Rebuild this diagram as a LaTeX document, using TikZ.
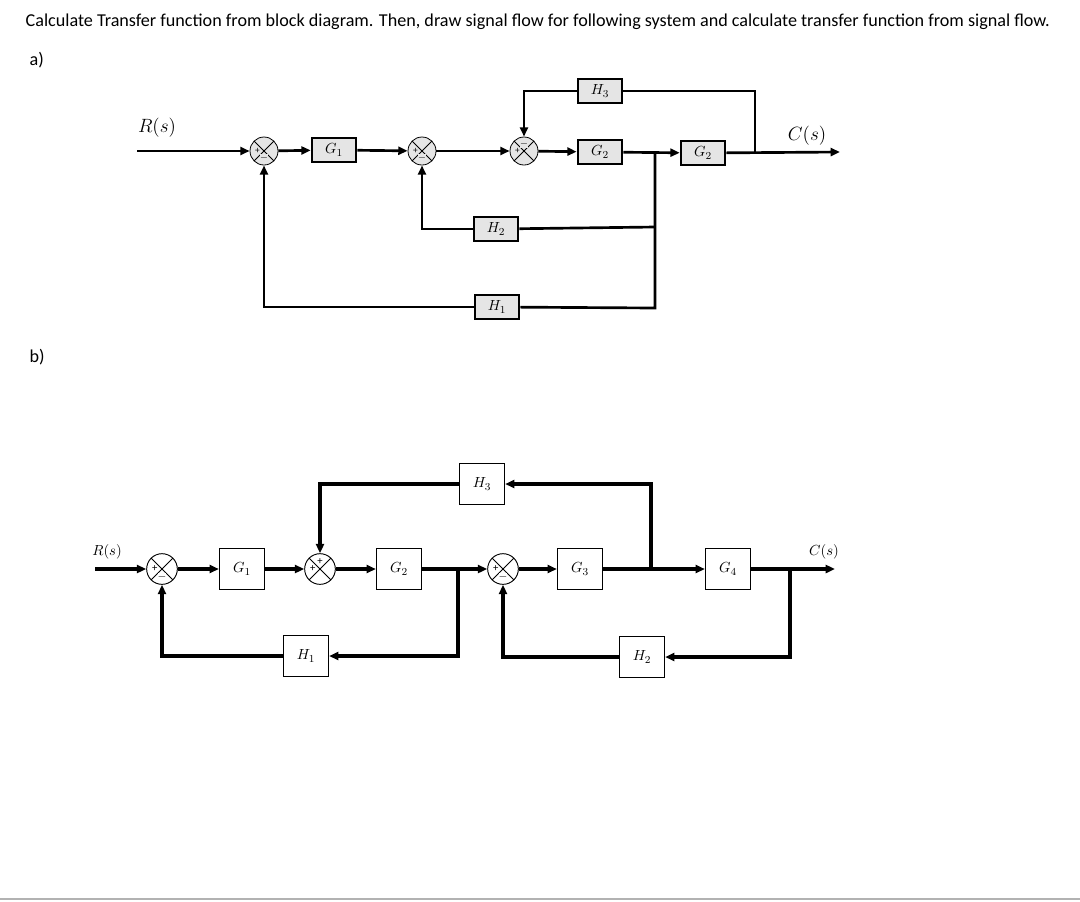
\documentclass[tikz,border=0pt]{standalone}
\usepackage{fontspec}
\setmainfont{Carlito}
\usetikzlibrary{arrows.meta}
\begin{document}
\begin{tikzpicture}[x=0.75pt,y=-0.75pt,
 blka/.style={draw,line width=2pt,fill=gray!20,minimum width=33pt,minimum height=18pt,inner sep=0pt,font=\fontsize{11}{12}\selectfont},
 suma/.style={draw,circle,fill=gray!20,minimum size=21pt,inner sep=0pt,line width=0.6pt,path picture={\draw[line width=0.6pt] (path picture bounding box.south west)--(path picture bounding box.north east) (path picture bounding box.north west)--(path picture bounding box.south east);}},
 blkb/.style={draw,line width=0.7pt,fill=white,minimum width=34pt,minimum height=31pt,inner sep=0pt,font=\fontsize{11}{12}\selectfont},
 sumb/.style={draw,circle,fill=white,minimum size=23pt,inner sep=0pt,line width=0.7pt,path picture={\draw[line width=0.7pt] (path picture bounding box.south west)--(path picture bounding box.north east) (path picture bounding box.north west)--(path picture bounding box.south east);}},
 la/.style={line width=2pt},
 lb/.style={line width=2.8pt},
 arr/.style={-{Triangle[length=7pt,width=6pt]}},
 sg/.style={font=\fontsize{7}{7}\selectfont,inner sep=0pt,fill=gray!20},
 sgb/.style={font=\fontsize{8}{8}\selectfont,inner sep=0pt,fill=white}]
\useasboundingbox (0,0) rectangle (1080,901);
\draw[gray!60,line width=0.8pt] (0,899) -- (1080,899);
\node[anchor=west,font=\fontsize{13.6}{15}\selectfont] (title) at (21,22) {Calculate Transfer function from block diagram. Then, draw signal flow for following system and calculate transfer function from signal flow.};
\node[anchor=west,font=\fontsize{13.6}{15}\selectfont] (la) at (25,60) {a)};
\node[anchor=west,font=\fontsize{13.6}{15}\selectfont] (lb) at (25,357) {b)};
% ---------- a)
\node[font=\fontsize{14}{16}\selectfont] (Ra) at (157,128) {$R(s)$};
\node[font=\fontsize{14}{16}\selectfont] (Ca) at (807,136) {$C(s)$};
\coordinate (ina) at (137,151);
\coordinate (outa) at (840,152);
\node[suma] (s1) at (264,151) {};
\node[suma] (s2) at (422,151) {};
\node[suma] (s3) at (524,151) {};
\node[blka] (G1a) at (334,150) {$G_1$};
\node[blka] (G2a) at (600,152) {$G_2$};
\node[blka] (G2b) at (703,153) {$G_2$};
\node[blka] (H3a) at (600,91) {$H_3$};
\node[blka] (H2a) at (496,229) {$H_2$};
\node[blka] (H1a) at (497,307) {$H_1$};
\node[sg] at ([xshift=-5pt]s1.center) {+};
\node[sg] at ([yshift=-5pt]s1.center) {$-$};
\node[sg] at ([xshift=-5pt]s2.center) {+};
\node[sg] at ([yshift=-5pt]s2.center) {$-$};
\node[sg] at ([xshift=-5pt]s3.center) {+};
\node[sg] at ([yshift=5pt]s3.center) {$-$};
\coordinate (ba) at (655,152);
\coordinate (bo) at (755,152);
\draw[la,arr] (ina) -- (s1);
\draw[la,arr] (s1) -- (G1a);
\draw[la,arr] (G1a) -- (s2);
\draw[la,arr] (s2) -- (s3);
\draw[la,arr] (s3) -- (G2a);
\draw[la,arr] (G2a) -- (G2b);
\draw[la,arr] (G2b) -- (outa);
\draw[la] (bo) |- (H3a);
\draw[la,arr] (H3a) -| (s3);
\draw[la] (ba) -- (655,308) -- (H1a);
\draw[la] (655,227) -- (H2a);
\draw[la,arr] (H2a) -| (s2);
\draw[la,arr] (H1a) -| (s1);
% ---------- b)
\node[font=\fontsize{11}{12}\selectfont] (Rb) at (107,552) {$R(s)$};
\node[font=\fontsize{11}{12}\selectfont] (Cb) at (824,552) {$C(s)$};
\coordinate (inb) at (95,569);
\coordinate (outb) at (835,569);
\node[sumb] (t1) at (162,569) {};
\node[sumb] (t2) at (320,569) {};
\node[sumb] (t3) at (503,569) {};
\node[blkb] (G1) at (242,569) {$G_1$};
\node[blkb] (G2) at (399,569) {$G_2$};
\node[blkb] (G3) at (580,569) {$G_3$};
\node[blkb] (G4) at (728,569) {$G_4$};
\node[blkb] (H3) at (482,484) {$H_3$};
\node[blkb] (H1) at (306,656) {$H_1$};
\node[blkb] (H2) at (642,657) {$H_2$};
\node[sgb] at ([xshift=-5.5pt]t1.center) {+};
\node[sgb] at ([yshift=-5.5pt]t1.center) {$-$};
\node[sgb] at ([xshift=-5.5pt]t2.center) {+};
\node[sgb] at ([yshift=5.5pt]t2.center) {+};
\node[sgb] at ([xshift=-5.5pt]t3.center) {+};
\node[sgb] at ([yshift=-5.5pt]t3.center) {$-$};
\coordinate (b1) at (458,569);
\coordinate (b2) at (651,569);
\coordinate (b3) at (790,569);
\draw[lb,arr] (inb) -- (t1);
\draw[lb,arr] (t1) -- (G1);
\draw[lb,arr] (G1) -- (t2);
\draw[lb,arr] (t2) -- (G2);
\draw[lb,arr] (G2) -- (t3);
\draw[lb,arr] (t3) -- (G3);
\draw[lb,arr] (G3) -- (G4);
\draw[lb,arr] (G4) -- (outb);
\draw[lb,arr] (b1) |- (H1);
\draw[lb,arr] (H1) -| (t1);
\draw[lb,arr] (b2) |- (H3);
\draw[lb,arr] (H3) -| (t2);
\draw[lb,arr] (b3) |- (H2);
\draw[lb,arr] (H2) -| (t3);
\end{tikzpicture}
\end{document}
